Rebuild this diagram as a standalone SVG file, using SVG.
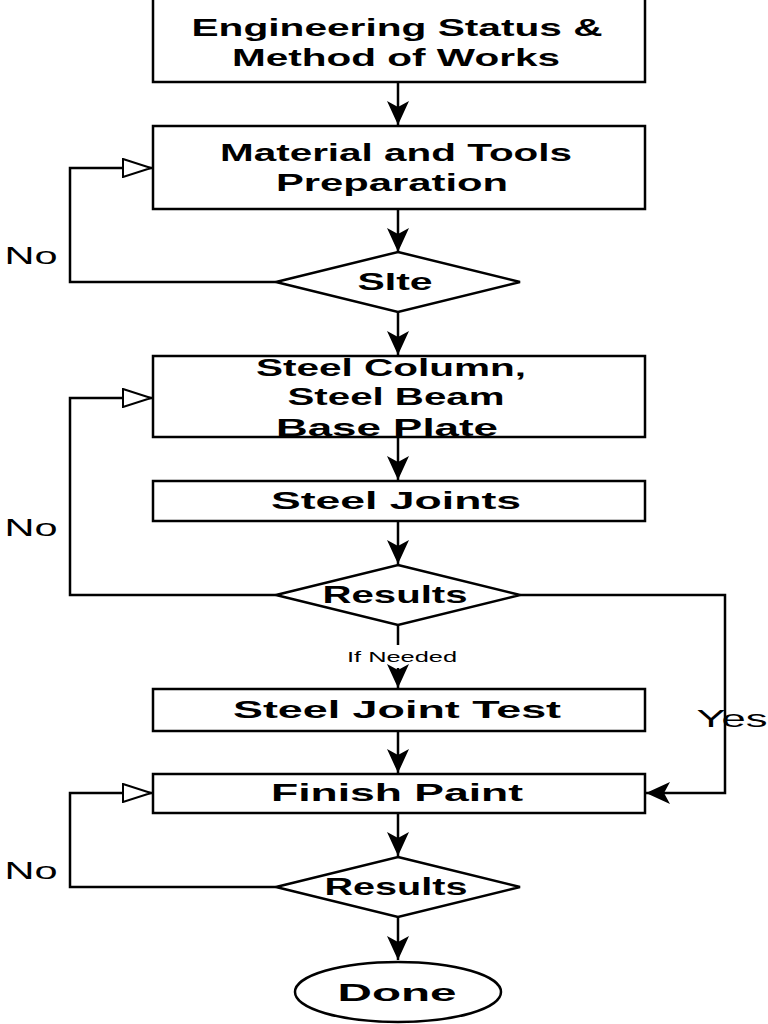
<svg xmlns="http://www.w3.org/2000/svg" width="768" height="1024" viewBox="0 0 768 1024">
<style>
.b{fill:#fff;stroke:#000;stroke-width:2.5}
.t{font-family:"Liberation Sans",Arial,sans-serif;font-weight:bold;font-size:24px;text-anchor:middle}
.l{font-family:"Liberation Sans",Arial,sans-serif;font-size:24px;text-anchor:middle}
.c{fill:none;stroke:#000;stroke-width:2.5}
</style>
<defs>
<marker id="o" viewBox="0 0 30 20" refX="30" refY="10" markerWidth="30" markerHeight="20" orient="auto" markerUnits="userSpaceOnUse"><path d="M1,1 L29,10 L1,19 Z" fill="#fff" stroke="#000" stroke-width="2"/></marker>
<marker id="a" viewBox="0 0 24 22" refX="24" refY="11" markerWidth="24" markerHeight="22" orient="auto" markerUnits="userSpaceOnUse"><path d="M0,0 L24,11 L0,22 L6,11 Z" fill="#000"/></marker>
</defs>
<g id="connectors">
<path class="c" d="M398,82 V125" marker-end="url(#a)"/>
<path class="c" d="M398,209 V252" marker-end="url(#a)"/>
<path class="c" d="M398,312 V355" marker-end="url(#a)"/>
<path class="c" d="M398,437 V480" marker-end="url(#a)"/>
<path class="c" d="M398,521 V564" marker-end="url(#a)"/>
<path class="c" d="M398,625 V645 M398,668 V688" marker-end="url(#a)"/>
<path class="c" d="M398,731 V773" marker-end="url(#a)"/>
<path class="c" d="M398,813 V856" marker-end="url(#a)"/>
<path class="c" d="M398,917 V960" marker-end="url(#a)"/>
<path class="c" d="M276,282 H70 V168 H152" marker-end="url(#o)"/>
<path class="c" d="M276,595 H70 V398 H152" marker-end="url(#o)"/>
<path class="c" d="M276,887 H70 V793 H152" marker-end="url(#o)"/>
<path class="c" d="M520,595 H725 V793 H646" marker-end="url(#a)"/>
<text class="l" x="31" y="264" textLength="53" lengthAdjust="spacingAndGlyphs">No</text>
<text class="l" x="31" y="536" textLength="53" lengthAdjust="spacingAndGlyphs">No</text>
<text class="l" x="31" y="879" textLength="53" lengthAdjust="spacingAndGlyphs">No</text>
<text class="l" x="732" y="727" textLength="71" lengthAdjust="spacingAndGlyphs">Yes</text>
<text x="402" y="662" font-family="Liberation Sans,Arial,sans-serif" font-size="14" text-anchor="middle" textLength="110" lengthAdjust="spacingAndGlyphs">If Needed</text>
</g>
<g id="n1"><rect class="b" x="153" y="-2" width="492" height="84"/><text class="t" x="397" y="36" textLength="411" lengthAdjust="spacingAndGlyphs">Engineering Status &amp;</text><text class="t" x="396" y="66" textLength="328" lengthAdjust="spacingAndGlyphs">Method of Works</text></g>
<g id="n2"><rect class="b" x="153" y="126" width="492" height="83"/><text class="t" x="396" y="161" textLength="352" lengthAdjust="spacingAndGlyphs">Material and Tools</text><text class="t" x="392" y="191" textLength="232" lengthAdjust="spacingAndGlyphs">Preparation</text></g>
<g id="d1"><polygon class="b" points="398,252 520,282 398,312 276,282"/><text class="t" x="395" y="290" textLength="75" lengthAdjust="spacingAndGlyphs">SIte</text></g>
<g id="n3"><rect class="b" x="153" y="356" width="492" height="81"/><text class="t" x="391" y="376" textLength="270" lengthAdjust="spacingAndGlyphs">Steel Column,</text><text class="t" x="396" y="405" textLength="217" lengthAdjust="spacingAndGlyphs">Steel Beam</text><text class="t" x="387" y="436" textLength="222" lengthAdjust="spacingAndGlyphs">Base Plate</text></g>
<g id="n4"><rect class="b" x="153" y="481" width="492" height="40"/><text class="t" x="396" y="509" textLength="250" lengthAdjust="spacingAndGlyphs">Steel Joints</text></g>
<g id="d2"><polygon class="b" points="398,565 520,595 398,625 276,595"/><text class="t" x="395" y="603" textLength="145" lengthAdjust="spacingAndGlyphs">Results</text></g>
<g id="n5"><rect class="b" x="153" y="689" width="492" height="42"/><text class="t" x="397" y="718" textLength="328" lengthAdjust="spacingAndGlyphs">Steel Joint Test</text></g>
<g id="n6"><rect class="b" x="153" y="774" width="492" height="39"/><text class="t" x="397" y="801" textLength="252" lengthAdjust="spacingAndGlyphs">Finish Paint</text></g>
<g id="d3"><polygon class="b" points="398,857 520,887 398,917 276,887"/><text class="t" x="396" y="895" textLength="143" lengthAdjust="spacingAndGlyphs">Results</text></g>
<g id="done"><ellipse class="b" cx="398" cy="992" rx="103" ry="30"/><text class="t" x="397" y="1001" font-size="27" textLength="119" lengthAdjust="spacingAndGlyphs">Done</text></g>
</svg>
